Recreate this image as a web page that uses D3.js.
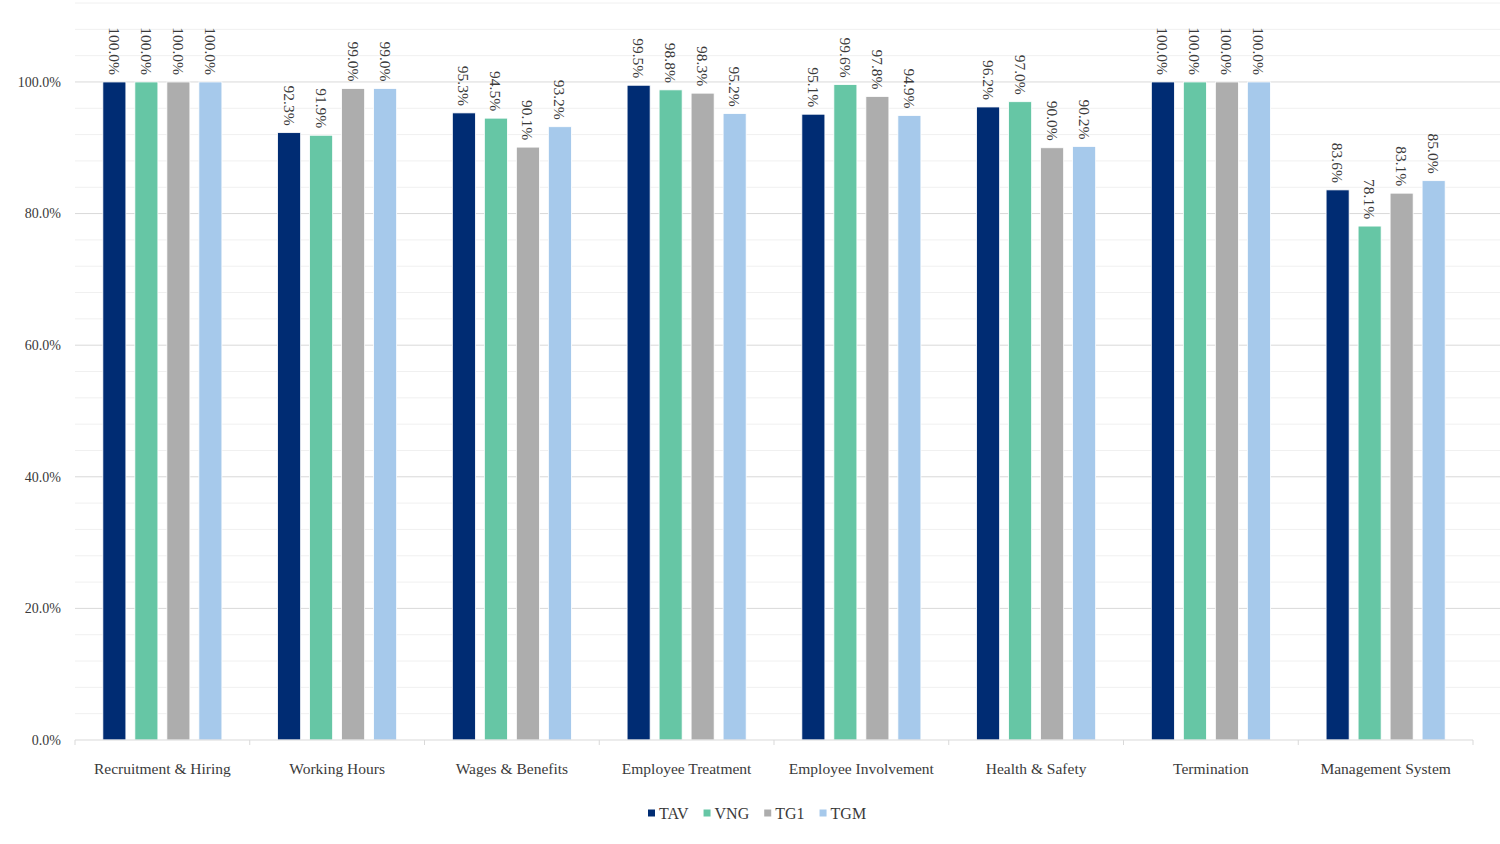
<!DOCTYPE html>
<html>
<head>
<meta charset="utf-8">
<script src="https://cdn.jsdelivr.net/npm/d3@7"></script>
<style>
  body { margin: 0; background: #fff; }
  svg text { font-family: "Liberation Serif", serif; fill: #3a3a3a; }
</style>
</head>
<body>
<script>
// categories and series
let categories = [
  "Recruitment & Hiring", "Working Hours", "Wages & Benefits", "Employee Treatment",
  "Employee Involvement", "Health & Safety", "Termination", "Management System"
];
let series = ["TAV", "VNG", "TG1", "TGM"];
let colors = ["#002c73", "#66c6a5", "#adadad", "#a6c9eb"];

// values per series (in %), same order as categories
let tav = [100.0, 92.3, 95.3, 99.5, 95.1, 96.2, 100.0, 83.6];
let vng = [100.0, 91.9, 94.5, 98.8, 99.6, 97.0, 100.0, 78.1];
let tg1 = [100.0, 99.0, 90.1, 98.3, 97.8, 90.0, 100.0, 83.1];
let tgm = [100.0, 99.0, 93.2, 95.2, 94.9, 90.2, 100.0, 85.0];

let yTicks = [0, 20, 40, 60, 80, 100];

let values = [tav, vng, tg1, tgm];
let width = 1500;
let height = 844;
let plotLeft = 75, plotRight = 1473, plotTop = 3, plotBottom = 740;

let svg = d3.select("body").append("svg")
  .attr("width", width)
  .attr("height", height);

let x0 = d3.scaleBand().domain(categories).range([plotLeft, plotRight]).padding(0);
let x1 = d3.scaleBand().domain(series).range([0, x0.bandwidth()])
  .paddingInner(0.28).paddingOuter(0.87);
let y = d3.scaleLinear().domain([0, 112]).range([plotBottom, plotTop]);

// minor gridlines every 4%
let minor = d3.range(4, 113, 4).filter((v) => v % 20 !== 0);
svg.append("g").selectAll("line").data(minor).enter().append("line")
  .attr("x1", plotLeft).attr("x2", width)
  .attr("y1", (d) => y(d)).attr("y2", (d) => y(d))
  .style("stroke", "#f0f0f0").style("stroke-width", 1);

// major gridlines
svg.append("g").selectAll("line").data(yTicks.filter((d) => d > 0)).enter().append("line")
  .attr("x1", plotLeft).attr("x2", width)
  .attr("y1", (d) => y(d)).attr("y2", (d) => y(d))
  .style("stroke", "#d9d9d9").style("stroke-width", 1);

// y labels
svg.append("g").selectAll("text").data(yTicks).enter().append("text")
  .attr("x", 61).attr("y", (d) => y(d))
  .attr("dy", "0.35em")
  .attr("text-anchor", "end")
  .style("font-size", "14px")
  .text((d) => d.toFixed(1) + "%");

// bars
let groups = svg.append("g").selectAll("g").data(categories).enter().append("g")
  .attr("transform", (d) => `translate(${x0(d)},0)`);

groups.selectAll("rect")
  .data((c, i) => series.map((s, j) => ({ s: s, v: values[j][i], c: colors[j] })))
  .enter().append("rect")
  .attr("x", (d) => x1(d.s))
  .attr("width", x1.bandwidth())
  .attr("y", (d) => y(d.v))
  .attr("height", (d) => y(0) - y(d.v))
  .style("fill", (d) => d.c)
  .style("stroke", "#fff")
  .style("stroke-width", 0.8);

// data labels, rotated
groups.selectAll("text.lbl")
  .data((c, i) => series.map((s, j) => ({ s: s, v: values[j][i] })))
  .enter().append("text")
  .attr("class", "lbl")
  .attr("text-anchor", "end")
  .attr("dy", "0.35em")
  .attr("transform", (d) => `translate(${x1(d.s) + x1.bandwidth() / 2},${y(d.v) - 7}) rotate(90)`)
  .style("font-size", "15.5px")
  .text((d) => d.v.toFixed(1) + "%");

// x axis line and ticks
svg.append("line")
  .attr("x1", plotLeft).attr("x2", plotRight)
  .attr("y1", plotBottom).attr("y2", plotBottom)
  .style("stroke", "#d9d9d9");

let bounds = categories.map((c) => x0(c)).concat([plotRight]);
svg.append("g").selectAll("line").data(bounds).enter().append("line")
  .attr("x1", (d) => d).attr("x2", (d) => d)
  .attr("y1", plotBottom).attr("y2", plotBottom + 5)
  .style("stroke", "#d9d9d9");

// category labels
svg.append("g").selectAll("text").data(categories).enter().append("text")
  .attr("x", (d) => x0(d) + x0.bandwidth() / 2)
  .attr("y", 774)
  .attr("text-anchor", "middle")
  .style("font-size", "15.5px")
  .text((d) => d);

// legend
let legend = svg.append("g");
let lx = 648;
series.forEach((s, i) => {
  let g = legend.append("g").attr("transform", `translate(${lx},813)`);
  g.append("rect").attr("x", 0).attr("y", -3.5).attr("width", 7).attr("height", 7)
    .style("fill", colors[i]);
  let t = g.append("text").attr("x", 11).attr("y", 0).attr("dy", "0.35em")
    .style("font-size", "16px").text(s);
  lx += 11 + t.node().getComputedTextLength() + 15;
});
</script>
</body>
</html>
